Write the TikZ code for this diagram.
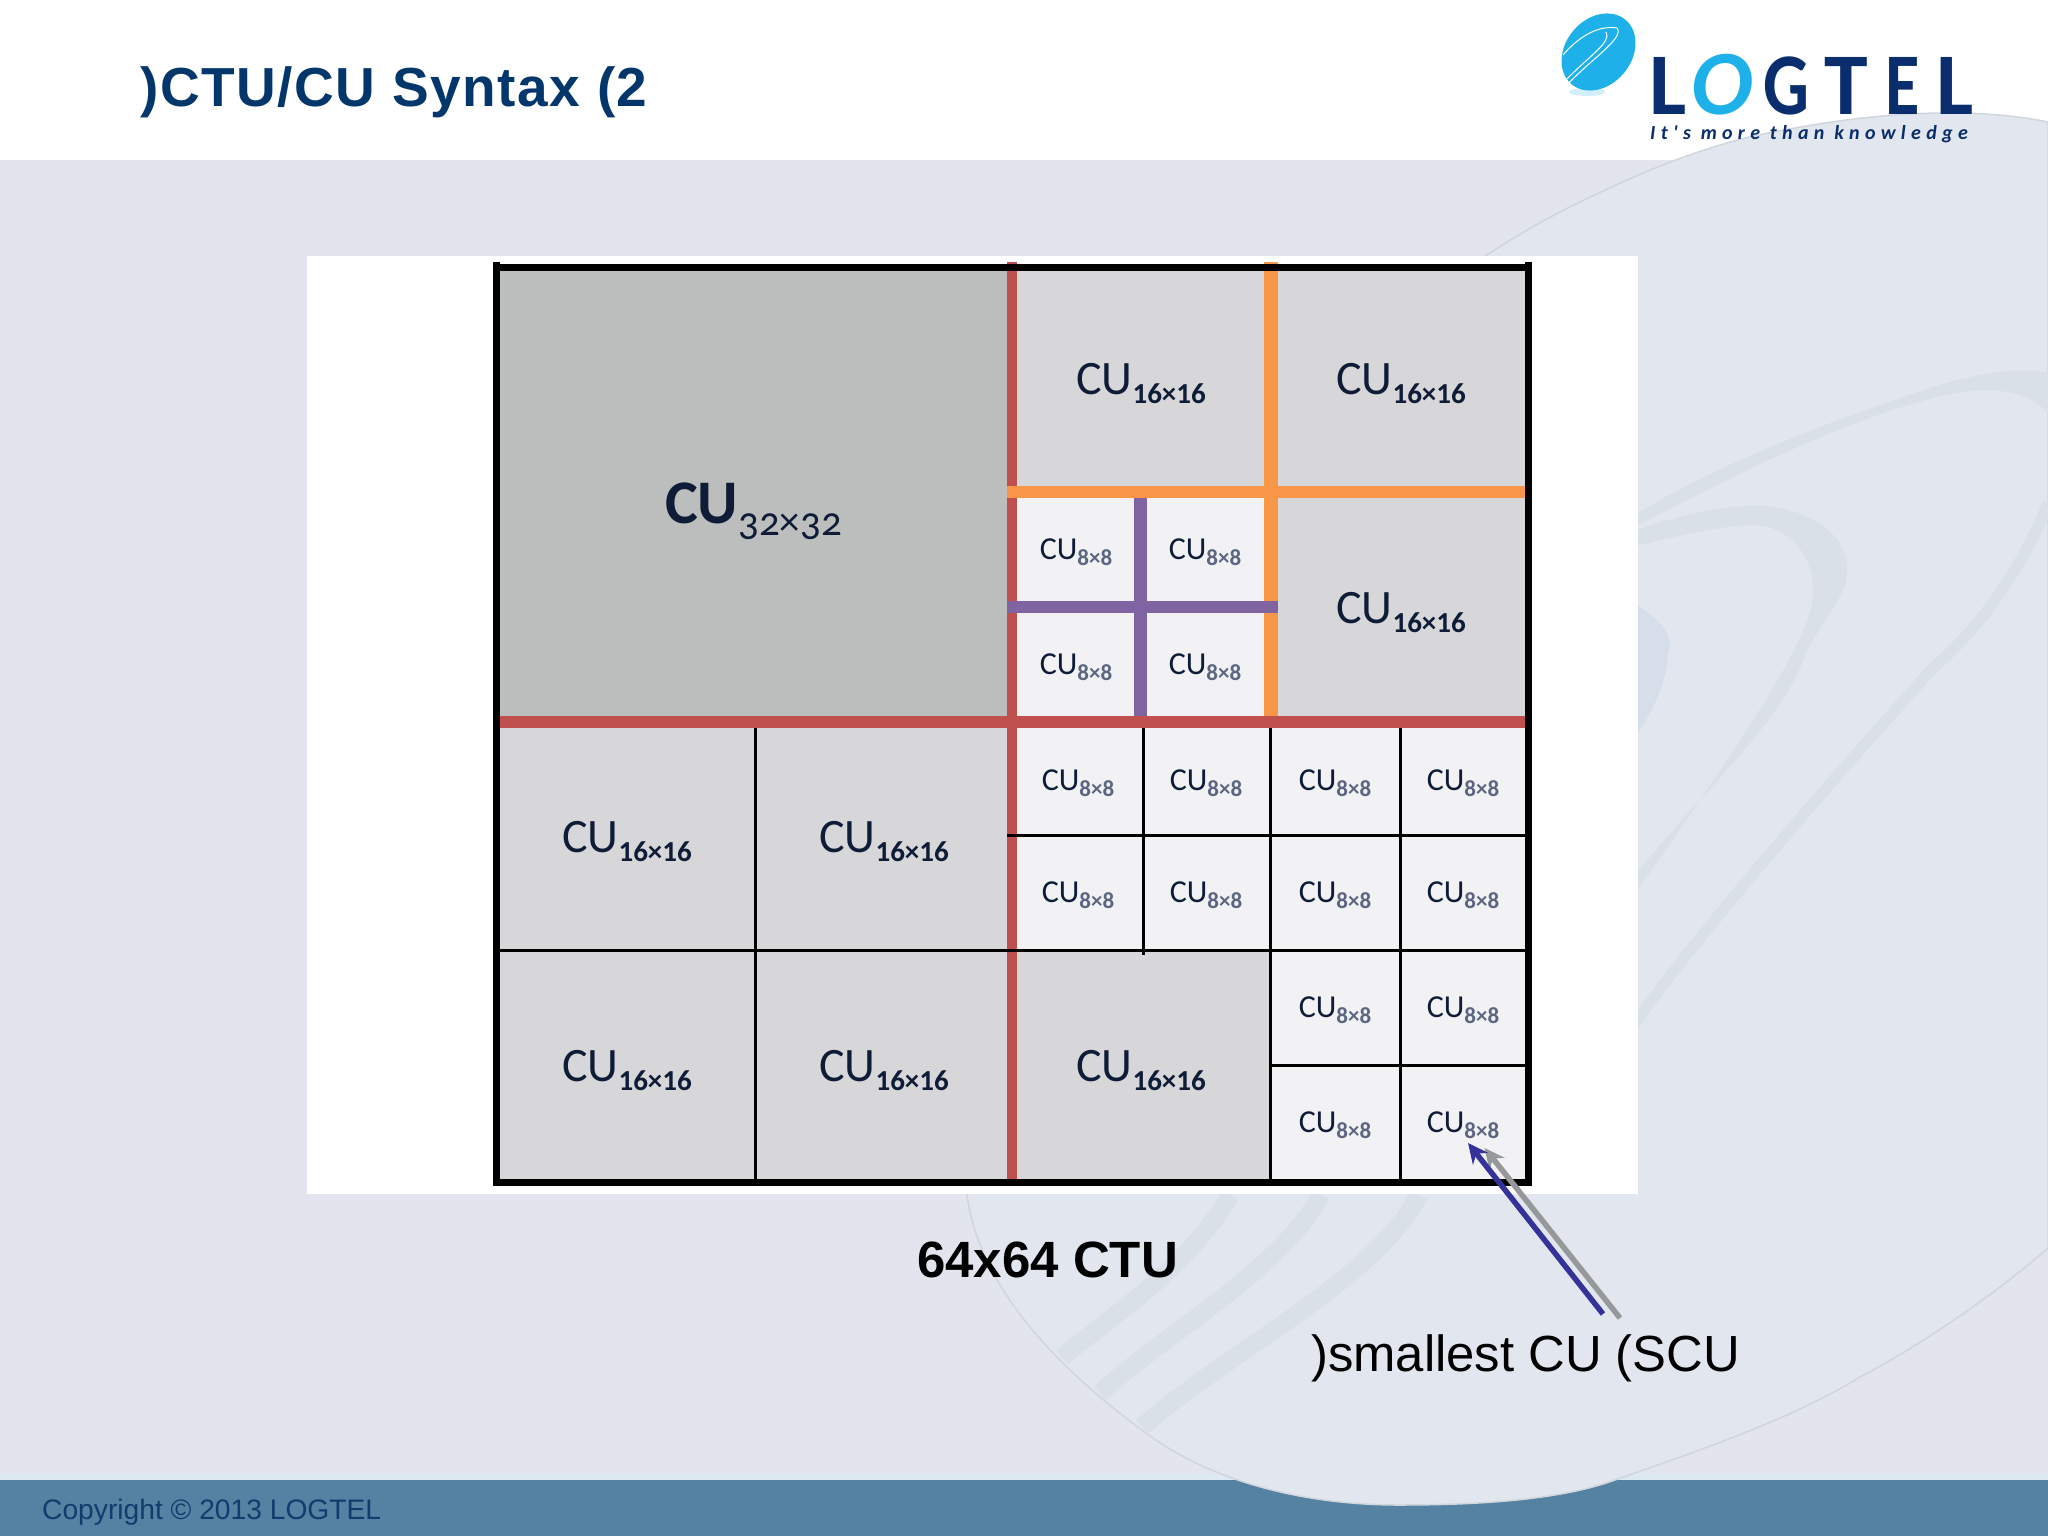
\documentclass[tikz,border=0pt]{standalone}
\usepackage{fontspec}
\setmainfont{Carlito}
\newfontfamily\slidefont{Liberation Sans}
\newfontfamily\titlefont[LetterSpace=2.8]{Liberation Sans}
\newfontfamily\tagfont[LetterSpace=26.5]{Carlito}
\usetikzlibrary{arrows.meta}

\definecolor{slidebg}{HTML}{E3E5EE}
\definecolor{swirlbg}{HTML}{E2E6EE}
\definecolor{swirl}{HTML}{D9E0E8}
\definecolor{swirlblob}{HTML}{D6DEE9}
\definecolor{swirledge}{HTML}{D0D6DC}
\definecolor{barblue}{HTML}{5581A2}
\definecolor{barglow}{HTML}{DCE9F2}
\definecolor{titleblue}{HTML}{03366B}
\definecolor{copyblue}{HTML}{0E3E6E}
\definecolor{logocyan}{HTML}{1EB0E8}
\definecolor{logonavy}{HTML}{0A2D6E}
\definecolor{cellbig}{HTML}{BCBDBD}
\definecolor{cellmid}{HTML}{D7D7D9}
\definecolor{cellsmall}{HTML}{F2F2F4}
\definecolor{labelnavy}{HTML}{0E1C38}
\definecolor{labelsub}{HTML}{5C6680}
\definecolor{splitred}{HTML}{C0504D}
\definecolor{splitorange}{HTML}{F79646}
\definecolor{splitpurple}{HTML}{8064A2}
\definecolor{arrowblue}{HTML}{33339A}
\definecolor{arrowgray}{HTML}{96989A}

\newcommand{\cuBig}{{\fontsize{62}{62}\selectfont\bfseries CU}\raisebox{-12pt}{\fontsize{41}{41}\selectfont\addfontfeatures{Numbers=OldStyle}32×32}}
\newcommand{\cuMid}{{\fontsize{48}{48}\selectfont CU}\raisebox{-9pt}{\fontsize{29}{29}\selectfont\bfseries 16×16}}
\newcommand{\cuSmall}{{\fontsize{32}{32}\selectfont CU}\raisebox{-6pt}{\fontsize{23}{23}\selectfont\bfseries\color{labelsub}8×8}}

\tikzset{
  cubig/.style={fill=cellbig, text=labelnavy, inner sep=0pt, minimum width=507pt, minimum height=445pt, text height=64pt, text depth=4pt},
  cumid/.style={fill=cellmid, text=labelnavy, inner sep=0pt, minimum width=258pt, minimum height=230pt, text height=36pt, text depth=4pt},
  cusmall/.style={fill=cellsmall, text=labelnavy, inner sep=0pt, minimum width=129pt, minimum height=116pt, text height=24pt, text depth=6pt},
  cutight/.style={cusmall, minimum width=122pt, minimum height=109pt},
  gridline/.style={black, line width=3pt},
  frameline/.style={black, line width=7pt},
  scuarrow/.style={line width=5.5pt, -{Stealth[length=20pt,width=19pt]}},
  letter/.style={font=\bfseries\fontsize{88}{88}\selectfont, text=logonavy, inner sep=0pt, anchor=base}
}

\begin{document}
\begin{tikzpicture}[x=1pt,y=-1pt]
    \useasboundingbox (0,0) rectangle (2048,1536);
    \fill[slidebg] (0,0) rectangle (2048,1536);
    \fill[white] (0,0) rectangle (2048,160);
    \fill[barglow] (0,1474) rectangle (2048,1480);
    \fill[barblue] (0,1480) rectangle (2048,1536);

    \filldraw[fill=swirlbg, draw=swirledge, line width=1.5pt] (2048,122)
      .. controls (1980,108) and (1880,108) .. (1745,138)
      .. controls (1680,155) and (1630,178) .. (1584,200)
      .. controls (1250,360) and (950,800) .. (967,1195)
      .. controls (980,1290) and (1060,1370) .. (1146,1433)
      .. controls (1220,1488) and (1320,1505) .. (1398,1505)
      .. controls (1480,1505) and (1560,1500) .. (1615,1480)
      .. controls (1700,1450) and (1790,1420) .. (1860,1377)
      .. controls (1930,1340) and (2000,1290) .. (2048,1248)
      -- cycle;

    \fill[swirl] (1620,895) .. controls (1690,800) and (1780,730) .. (1807,650)
      .. controls (1830,610) and (1850,590) .. (1847,565)
      .. controls (1845,530) and (1800,506) .. (1757,506)
      .. controls (1720,506) and (1680,515) .. (1620,535)
      -- (1620,550) .. controls (1680,535) and (1720,525) .. (1757,525)
      .. controls (1790,528) and (1815,555) .. (1813,596)
      .. controls (1810,640) and (1750,730) .. (1620,915) -- cycle;
    \fill[swirl] (1620,525) .. controls (1700,470) and (1833,420) .. (1933,387)
      .. controls (1990,370) and (2020,368) .. (2048,373)
      -- (2048,413) .. controls (2030,392) and (2000,388) .. (1967,391)
      .. controls (1880,405) and (1760,460) .. (1620,535) -- cycle;
    \draw[swirl, line width=11pt] (1630,1030) .. controls (1700,930) and (1850,760) .. (1933,668)
      .. controls (1990,620) and (2030,550) .. (2048,503);
    \fill[swirlblob] (1630,600) .. controls (1660,620) and (1675,635) .. (1668,654)
      .. controls (1665,690) and (1650,715) .. (1630,745) -- cycle;
    \draw[swirl, line width=18pt] (1230,1195) .. controls (1190,1265) and (1120,1310) .. (1062,1357);
    \draw[swirl, line width=18pt] (1321,1195) .. controls (1280,1270) and (1170,1330) .. (1100,1393);
    \draw[swirl, line width=18pt] (1419,1195) .. controls (1375,1280) and (1230,1350) .. (1142,1427);

    \fill[white] (307,256) rectangle (1638,1194);

    \node[cubig] (big) at (753.5,493.5) {\cuBig};

    \node[cumid, minimum height=222pt] (midA) at (1141,378) {\cuMid};
    \node[cumid, minimum height=222pt] (midB) at (1401,378) {\cuMid};
    \node[cumid, minimum height=222pt] (midC) at (1401,607) {\cuMid};
    \node[cumid] (midD) at (627,836) {\cuMid};
    \node[cumid] (midE) at (884,836) {\cuMid};
    \node[cumid] (midF) at (627,1065) {\cuMid};
    \node[cumid] (midG) at (884,1065) {\cuMid};
    \node[cumid] (midH) at (1141,1065) {\cuMid};

    \node[cutight] (topA) at (1076,550) {\cuSmall};
    \node[cutight] (topB) at (1205,550) {\cuSmall};
    \node[cutight] (topC) at (1076,665) {\cuSmall};
    \node[cutight] (topD) at (1205,665) {\cuSmall};

    \node[cusmall] (lowA) at (1078,781) {\cuSmall};
    \node[cusmall] (lowB) at (1206,781) {\cuSmall};
    \node[cusmall] (lowC) at (1335,781) {\cuSmall};
    \node[cusmall] (lowD) at (1463,781) {\cuSmall};
    \node[cusmall] (lowE) at (1078,893) {\cuSmall};
    \node[cusmall] (lowF) at (1206,893) {\cuSmall};
    \node[cusmall] (lowG) at (1335,893) {\cuSmall};
    \node[cusmall] (lowH) at (1463,893) {\cuSmall};
    \node[cusmall] (lowI) at (1335,1008) {\cuSmall};
    \node[cusmall] (lowJ) at (1463,1008) {\cuSmall};
    \node[cusmall] (lowK) at (1335,1123) {\cuSmall};
    \node[cusmall] (lowL) at (1463,1123) {\cuSmall};

    \draw[splitred, line width=10pt] (1012,262) -- (1012,1180);
    \draw[splitorange, line width=14pt] (1271,262) -- (1271,716);
    \draw[splitorange, line width=12pt] (1007,492) -- (1525,492);
    \draw[splitpurple, line width=13pt] (1140.5,498) -- (1140.5,716);
    \draw[splitpurple, line width=12pt] (1007,607) -- (1278,607);
    \draw[splitred, line width=12pt] (500,722) -- (1525,722);

    \draw[gridline] (755,728) -- (755,1180);
    \draw[gridline] (1143,728) -- (1143,955);
    \draw[gridline] (1270,728) -- (1270,1180);
    \draw[gridline] (1400,728) -- (1400,1180);
    \draw[gridline] (1007,835.5) -- (1525,835.5);
    \draw[gridline] (500,950) -- (1525,950);
    \draw[gridline] (1270,1065.5) -- (1525,1065.5);

    \draw[frameline] (496.5,262) -- (496.5,1182.5) -- (1528.5,1182.5) -- (1528.5,262);
    \draw[frameline] (496.5,267.5) -- (1528.5,267.5);

    \coordinate (grayEnd) at (1620,1318);
    \coordinate (grayTip) at (1484.5,1148);
    \coordinate (blueEnd) at (1603,1314);
    \coordinate (blueTip) at (1468,1143);
    \draw[scuarrow, arrowgray] (grayEnd) -- (grayTip);
    \draw[scuarrow, arrowblue] (blueEnd) -- (blueTip);

    \node[anchor=base west, inner sep=0pt, text=titleblue, font=\titlefont\bfseries\fontsize{55}{55}\selectfont] (title) at (140,107) {)CTU/CU Syntax (2};
    \node[anchor=base west, inner sep=0pt, font=\slidefont\bfseries\fontsize{51}{51}\selectfont] (ctu) at (917,1277) {64x64 CTU};
    \node[anchor=base west, inner sep=0pt, font=\slidefont\fontsize{50.8}{50.8}\selectfont] (scu) at (1311,1371) {)smallest CU (SCU};
    \node[anchor=base west, inner sep=0pt, text=copyblue, font=\slidefont\fontsize{28.2}{28.2}\selectfont] (copy) at (42,1519) {Copyright © 2013 LOGTEL};

    \fill[logocyan!20] (1587,92) ellipse [x radius=18, y radius=4];
    \fill[logocyan, rotate around={50:(1598.5,52)}] (1598.5,52) ellipse [x radius=42, y radius=33];
    \draw[white, line width=1pt] (1563,55) .. controls (1580,35) and (1600,25) .. (1617,28);
    \draw[white, line width=1pt] (1617,28) .. controls (1625,38) and (1590,60) .. (1568,84);
    \draw[white, line width=1pt] (1606,32) .. controls (1612,42) and (1590,55) .. (1566,80);

    \node[letter] (logoL) at (1668,115) {L};
    \node[letter, text=logocyan, font=\bfseries\itshape\fontsize{92}{92}\selectfont] (logoO) at (1722,115) {O};
    \node[letter] (logoG) at (1786,115) {\scalebox{.82}[1]{G}};
    \node[letter] (logoT) at (1846,115) {T};
    \node[letter] (logoE) at (1903,115) {\scalebox{.8}[1]{E}};
    \node[letter] (logoLL) at (1955,115) {L};
    \node[anchor=base west, inner sep=0pt, text=logonavy, font=\tagfont\itshape\bfseries\fontsize{20}{20}\selectfont] (tagline) at (1650,140) {It's more than knowledge};
  \end{tikzpicture}
\end{document}
